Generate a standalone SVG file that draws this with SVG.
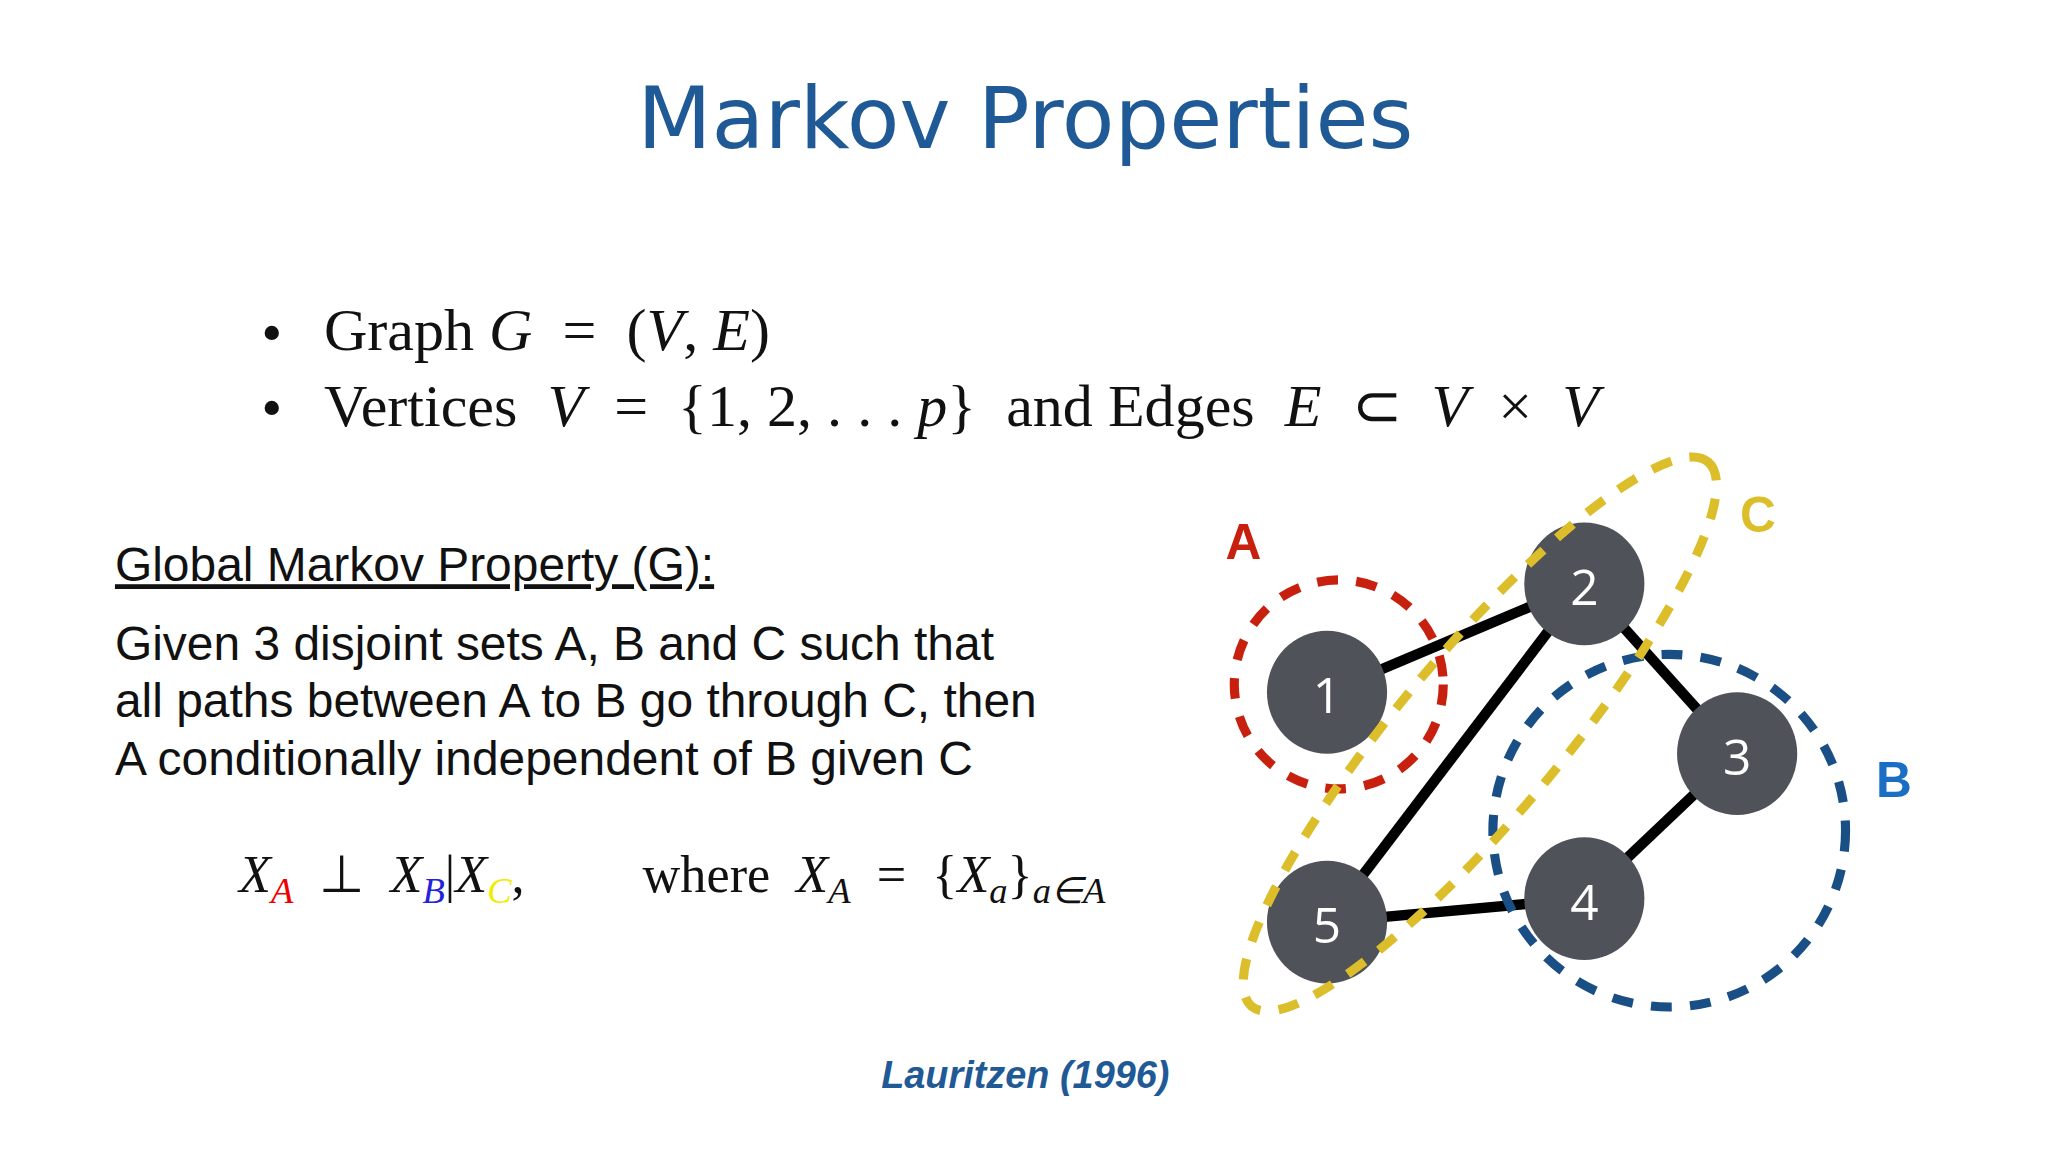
<svg xmlns="http://www.w3.org/2000/svg" width="2048" height="1152" viewBox="0 0 2048 1152">
<style>
.serif{font-family:"Liberation Serif",serif}
.sans{font-family:"Liberation Sans",Arial,sans-serif}
.i{font-style:italic}
.edge{stroke:#000;stroke-width:8}
.node{fill:#4f5258}
.nl{font-family:"Open Sans","DejaVu Sans",sans-serif;font-size:38px;fill:#fff;text-anchor:middle}
.dash{fill:none;stroke-width:7;stroke-dasharray:16 14}
</style>
<rect width="2048" height="1152" fill="#fff"/>
<g transform="scale(1.30612)">
<text x="785" y="113" fill="#1f5a96" text-anchor="middle" style="font-family:'DejaVu Sans',sans-serif;font-size:66px">Markov Properties</text>
<g id="bullets" class="serif" font-size="46" fill="#111">
<text x="200" y="270">•</text>
<text x="248" y="268">Graph <tspan class="i">G</tspan>&#160;&#160;=&#160;&#160;(<tspan class="i">V</tspan>, <tspan class="i">E</tspan>)</text>
<text x="200" y="328">•</text>
<text x="248" y="326">Vertices&#160;&#160;<tspan class="i">V</tspan>&#160;&#160;=&#160;&#160;{1, 2, . . . <tspan class="i">p</tspan>}&#160;&#160;and Edges&#160;&#160;<tspan class="i">E</tspan>&#160;&#160;⊂&#160;&#160;<tspan class="i">V</tspan>&#160;&#160;×&#160;&#160;<tspan class="i">V</tspan></text>
</g>
<g id="text" class="sans" font-size="36.7" fill="#111">
<text x="88" y="445" text-decoration="underline">Global Markov Property (G):</text>
<text x="88" y="505">Given 3 disjoint sets A, B and C such that</text>
<text x="88" y="549">all paths between A to B go through C, then</text>
<text x="88" y="593">A conditionally independent of B given C</text>
</g>
<text id="formula" x="183" y="683" class="serif" font-size="40" fill="#111"><tspan class="i">X</tspan><tspan class="i" fill="#e00" font-size="28" dy="8">A</tspan><tspan dy="-8">&#160;&#160;⊥&#160;&#160;</tspan><tspan class="i">X</tspan><tspan class="i" fill="#22d" font-size="28" dy="8">B</tspan><tspan dy="-8">|</tspan><tspan class="i">X</tspan><tspan class="i" fill="#ee0" font-size="28" dy="8">C</tspan><tspan dy="-8">,</tspan><tspan x="492">where&#160;&#160;</tspan><tspan class="i">X</tspan><tspan class="i" font-size="28" dy="8">A</tspan><tspan dy="-8">&#160;&#160;=&#160;&#160;{</tspan><tspan class="i">X</tspan><tspan class="i" font-size="28" dy="8">a</tspan><tspan dy="-8">}</tspan><tspan class="i" font-size="28" dy="8">a∈A</tspan></text>
<text x="785" y="833" class="sans" font-size="29" font-weight="bold" font-style="italic" fill="#1f5a96" text-anchor="middle">Lauritzen (1996)</text>
<g id="connectors">
<line class="edge" x1="1016" y1="530" x2="1213" y2="447"/>
<line class="edge" x1="1213" y1="447" x2="1330" y2="577"/>
<line class="edge" x1="1213" y1="447" x2="1016" y2="706"/>
<line class="edge" x1="1330" y1="577" x2="1213" y2="688"/>
<line class="edge" x1="1016" y1="706" x2="1213" y2="688"/>
</g>
<g id="n1"><ellipse class="node" cx="1016" cy="530" rx="46" ry="47"/><text class="nl" x="1016" y="546">1</text></g>
<g id="n2"><ellipse class="node" cx="1213" cy="447" rx="46" ry="47"/><text class="nl" x="1213" y="463">2</text></g>
<g id="n3"><ellipse class="node" cx="1330" cy="577" rx="46" ry="47"/><text class="nl" x="1330" y="593">3</text></g>
<g id="n4"><ellipse class="node" cx="1213" cy="688" rx="46" ry="47"/><text class="nl" x="1213" y="704">4</text></g>
<g id="n5"><ellipse class="node" cx="1016" cy="706" rx="46" ry="47"/><text class="nl" x="1016" y="722">5</text></g>
<g id="setA"><circle class="dash" stroke="#c8200e" cx="1025" cy="524" r="80"/><text x="952" y="428" class="sans" font-size="38" font-weight="bold" fill="#c8200e" text-anchor="middle">A</text></g>
<g id="setB"><circle class="dash" stroke="#1a4f86" cx="1278" cy="636" r="135"/><text x="1450" y="610" class="sans" font-size="38" font-weight="bold" fill="#1a6fc4" text-anchor="middle">B</text></g>
<g id="setC"><ellipse class="dash" stroke="#dcbd2a" cx="1133" cy="562" rx="272" ry="62" transform="rotate(-50 1133 562)"/><text x="1346" y="407" class="sans" font-size="38" font-weight="bold" fill="#dcbd2a" text-anchor="middle">C</text></g>
</g>
</svg>
